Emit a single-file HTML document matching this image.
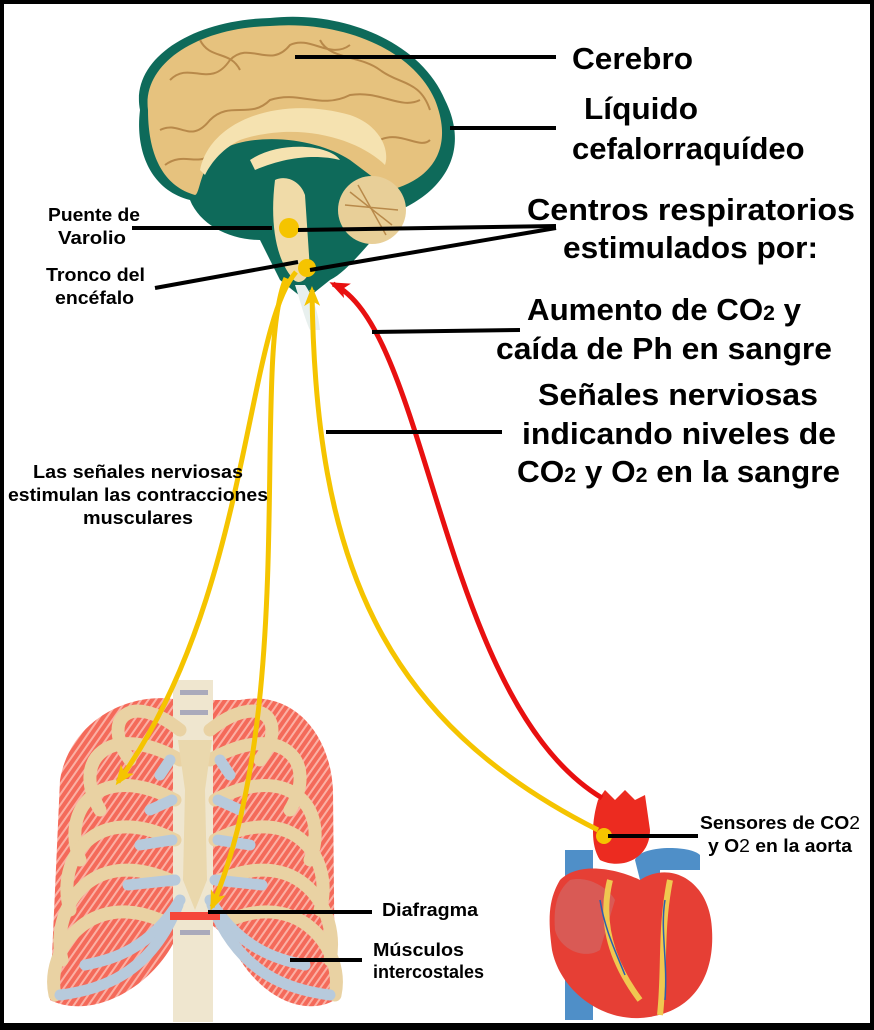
<!DOCTYPE html>
<html><head><meta charset="utf-8"><style>
html,body{margin:0;padding:0;background:#000}
svg{display:block}
text{font-family:"Liberation Sans",sans-serif;font-weight:bold;fill:#000}
</style></head><body>
<svg width="874" height="1030" viewBox="0 0 874 1030" xmlns="http://www.w3.org/2000/svg">
<defs>
<marker id="ay" markerWidth="20" markerHeight="16" refX="16" refY="8" orient="auto" markerUnits="userSpaceOnUse"><path d="M0,0 L20,8 L0,16 L5,8 z" fill="#f5c400"/></marker>
<marker id="ar" markerWidth="20" markerHeight="16" refX="16" refY="8" orient="auto" markerUnits="userSpaceOnUse"><path d="M0,0 L20,8 L0,16 L5,8 z" fill="#e81010"/></marker>
<pattern id="mus" width="6" height="6" patternUnits="userSpaceOnUse" patternTransform="rotate(35)"><rect width="6" height="6" fill="#f46a5a"/><rect width="2" height="6" fill="#fbb0a4"/></pattern>
</defs>
<rect x="4" y="4" width="866" height="1019" fill="#fff"/>

<!-- BRAIN -->
<path d="M140,110 C130,60 190,20 270,18 C340,10 420,40 445,100 C470,150 445,190 400,210 C370,240 350,270 330,280 L305,300 L280,280 L260,240 C230,240 200,225 190,200 C150,190 135,150 140,110 Z" fill="#0e6a5a"/>
<path d="M148,110 C142,65 195,28 270,26 C340,20 412,48 435,100 C455,150 430,180 390,190 L350,160 C320,140 260,130 220,150 C200,165 200,195 195,195 C160,185 148,150 148,110 Z" fill="#e6c27e"/>
<g fill="none" stroke="#b8894a" stroke-width="2">
<path d="M170,80 C190,60 210,90 230,60 C250,40 270,70 290,45 C310,35 330,60 350,45"/>
<path d="M160,130 C180,120 190,145 210,120 C230,100 250,120 270,100 C300,90 320,110 350,95 C380,90 400,110 420,100"/>
<path d="M200,40 C210,60 230,50 240,70"/><path d="M320,40 C330,60 360,55 380,70 C400,85 420,80 430,110"/>
<path d="M165,165 C185,150 200,170 215,150"/><path d="M380,140 C400,130 420,150 430,140"/>
</g>
<path d="M200,170 C210,120 280,95 350,115 C380,125 390,150 385,165 C360,140 300,120 240,140 C220,150 210,165 205,175 Z" fill="#f5e2b0"/>
<path d="M250,160 C280,140 330,145 340,160 C320,155 290,155 255,170 Z" fill="#f5e2b0"/>
<circle cx="372" cy="210" r="34" fill="#e8cf98"/>
<g stroke="#b8894a" stroke-width="1.5" fill="none"><path d="M345,205 L398,210 M350,192 L392,225 M358,185 L386,235"/></g>
<path d="M275,180 C285,175 300,180 305,195 L310,270 C305,285 295,285 290,275 C275,255 270,220 275,180 Z" fill="#f0dba8"/>
<path d="M295,285 C300,300 305,320 310,330 L320,330 C318,310 312,295 305,285 Z" fill="#e8f0ee"/>
<circle cx="289" cy="228" r="10" fill="#f5c400"/>
<circle cx="307" cy="268" r="9" fill="#f5c400"/>

<!-- RIBCAGE -->
<path d="M60,780 C70,720 130,690 180,700 L240,700 C290,690 330,730 333,790 L335,1000 C300,1020 250,990 230,940 L200,915 L175,940 C150,990 90,1020 50,1000 Z" fill="url(#mus)"/>
<rect x="173" y="680" width="40" height="342" fill="#efe6cf"/>
<g fill="none" stroke="#e9d2a3" stroke-width="13" stroke-linecap="round">
<path d="M180,730 C130,690 100,720 130,760"/><path d="M210,730 C260,690 290,720 260,760"/>
<path d="M180,760 C110,720 70,760 100,810"/><path d="M210,760 C280,720 320,760 290,810"/>
<path d="M175,800 C100,760 60,810 80,860"/><path d="M215,800 C290,760 330,810 310,860"/>
<path d="M175,840 C95,800 55,860 70,910"/><path d="M215,840 C295,800 335,860 320,910"/>
<path d="M170,880 C90,845 50,910 62,960"/><path d="M220,880 C300,845 340,910 330,960"/>
<path d="M160,920 C90,890 45,950 55,995"/><path d="M230,920 C300,890 345,950 335,995"/>
</g>
<g fill="none" stroke="#b7cadc" stroke-width="11" stroke-linecap="round">
<path d="M170,760 L160,775"/><path d="M220,760 L230,775"/>
<path d="M172,800 L150,810"/><path d="M218,800 L240,810"/>
<path d="M172,840 L140,845"/><path d="M218,840 L250,845"/>
<path d="M175,880 L128,885"/><path d="M215,880 L262,885"/>
<path d="M180,900 C150,950 110,960 85,965"/><path d="M210,900 C240,950 280,960 305,965"/>
<path d="M178,905 C150,975 100,990 60,995"/><path d="M212,905 C240,975 290,990 330,995"/>
</g>
<path d="M178,740 L212,740 L205,790 L207,880 L195,910 L183,880 L185,790 Z" fill="#ead8ad"/>
<rect x="180" y="690" width="28" height="5" fill="#aab"/><rect x="180" y="710" width="28" height="5" fill="#aab"/>
<rect x="170" y="912" width="50" height="8" fill="#f5473a"/>
<rect x="180" y="930" width="30" height="5" fill="#aab"/>

<!-- HEART -->
<rect x="565" y="850" width="28" height="170" fill="#4f8fc8"/>
<path d="M635,860 C640,845 690,845 700,855 L700,870 L660,870 L660,880 L640,880 Z" fill="#4f8fc8"/>
<path d="M598,800 L605,790 L615,800 L625,790 L635,800 L645,795 L650,830 C650,860 620,870 600,860 C590,845 592,820 598,800 Z" fill="#ec2b20"/>
<path d="M560,880 C580,860 620,870 640,880 C670,860 710,880 712,930 C715,980 690,1015 640,1018 C600,1020 560,990 552,950 C548,920 548,900 560,880 Z" fill="#e63f35"/>
<path d="M570,880 C590,875 610,890 615,900 L600,950 C585,960 560,950 555,930 C553,905 558,890 570,880 Z" fill="#d95a55"/>
<g stroke="#f0c850" stroke-width="6" fill="none"><path d="M610,880 C600,920 610,960 640,1000"/><path d="M670,880 C660,930 665,970 660,1015"/></g>
<g stroke="#2a5fb0" stroke-width="1.5" fill="none"><path d="M600,900 C605,930 615,950 625,975"/><path d="M665,900 C660,930 668,960 665,1000"/></g>
<circle cx="604" cy="836" r="8" fill="#f5c400"/>

<!-- ARROWS -->
<g fill="none" stroke-width="5">
<path d="M296,272 C245,330 250,600 118,782" stroke="#f5c400" marker-end="url(#ay)"/>
<path d="M286,278 C250,360 300,700 212,907" stroke="#f5c400" marker-end="url(#ay)"/>
<path d="M598,830 C380,720 315,560 312,290" stroke="#f5c400" marker-end="url(#ay)"/>
<path d="M602,798 C440,700 430,330 333,284" stroke="#e81010" marker-end="url(#ar)"/>
</g>

<!-- LEADER LINES -->
<g stroke="#000" stroke-width="4">
<line x1="295" y1="57" x2="556" y2="57"/>
<line x1="450" y1="128" x2="556" y2="128"/>
<line x1="132" y1="228" x2="272" y2="228"/>
<line x1="298" y1="230" x2="556" y2="226"/>
<line x1="310" y1="270" x2="556" y2="228"/>
<line x1="155" y1="288" x2="298" y2="262"/>
<line x1="372" y1="332" x2="520" y2="330"/>
<line x1="326" y1="432" x2="502" y2="432"/>
<line x1="208" y1="912" x2="372" y2="912"/>
<line x1="290" y1="960" x2="362" y2="960"/>
<line x1="608" y1="836" x2="698" y2="836"/>
</g>

<!-- TEXT -->
<g font-size="31">
<text x="572" y="69" textLength="121" lengthAdjust="spacingAndGlyphs">Cerebro</text>
<text x="584" y="119" textLength="114" lengthAdjust="spacingAndGlyphs">Líquido</text>
<text x="572" y="159">cefalorraquídeo</text>
<text x="527" y="220" textLength="328" lengthAdjust="spacingAndGlyphs">Centros respiratorios</text>
<text x="563" y="258" textLength="255" lengthAdjust="spacingAndGlyphs">estimulados por:</text>
<text x="527" y="320" textLength="274" lengthAdjust="spacingAndGlyphs">Aumento de CO<tspan font-size="21">2</tspan> y</text>
<text x="496" y="359" textLength="336" lengthAdjust="spacingAndGlyphs">caída de Ph en sangre</text>
<text x="538" y="405" textLength="280" lengthAdjust="spacingAndGlyphs">Señales nerviosas</text>
<text x="522" y="444" textLength="314" lengthAdjust="spacingAndGlyphs">indicando niveles de</text>
<text x="517" y="482" textLength="323" lengthAdjust="spacingAndGlyphs">CO<tspan font-size="21">2</tspan> y O<tspan font-size="21">2</tspan> en la sangre</text>
</g>
<g font-size="18">
<text x="48" y="221" textLength="92" lengthAdjust="spacingAndGlyphs">Puente de</text>
<text x="58" y="244" textLength="68" lengthAdjust="spacingAndGlyphs">Varolio</text>
<text x="46" y="281" textLength="99" lengthAdjust="spacingAndGlyphs">Tronco del</text>
<text x="55" y="304" textLength="79" lengthAdjust="spacingAndGlyphs">encéfalo</text>
<text x="33" y="478" textLength="210" lengthAdjust="spacingAndGlyphs">Las señales nerviosas</text>
<text x="8" y="501" textLength="260" lengthAdjust="spacingAndGlyphs">estimulan las contracciones</text>
<text x="83" y="524" textLength="110" lengthAdjust="spacingAndGlyphs">musculares</text>
<text x="382" y="916" textLength="96" lengthAdjust="spacingAndGlyphs">Diafragma</text>
<text x="373" y="956" textLength="91" lengthAdjust="spacingAndGlyphs">Músculos</text>
<text x="373" y="978">intercostales</text>
<text x="700" y="829" textLength="160" lengthAdjust="spacingAndGlyphs">Sensores de CO<tspan font-weight="normal">2</tspan></text>
<text x="708" y="852" textLength="144" lengthAdjust="spacingAndGlyphs">y O<tspan font-weight="normal">2</tspan> en la aorta</text>
</g>
</svg>
</body></html>
